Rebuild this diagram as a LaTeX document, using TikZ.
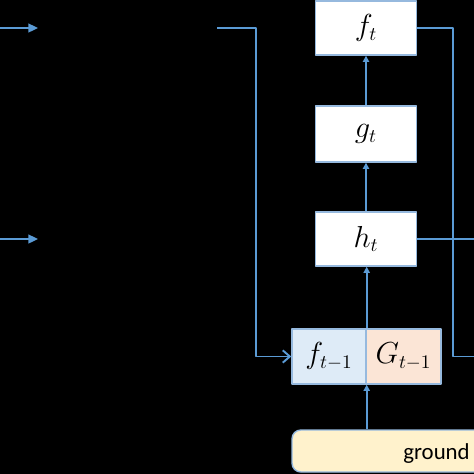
\documentclass[tikz,border=0pt]{standalone}
\usepackage{fontspec}
\newfontfamily\carlito{Carlito}
\usetikzlibrary{arrows.meta,positioning}
\definecolor{xanh}{RGB}{91,155,213}
\definecolor{vien}{RGB}{150,185,222}
\definecolor{xanhnhat}{RGB}{222,235,247}
\definecolor{camnhat}{RGB}{251,229,214}
\definecolor{vangnhat}{RGB}{255,242,204}
\begin{document}
\begin{tikzpicture}[x=0.02cm, y=-0.02cm, font=\fontsize{16}{18}\selectfont, line join=round, >={Triangle[length=3.5pt,width=3.5pt]},
	hop/.style={draw=vien, line width=0.8pt, fill=white, minimum width=2.02cm, minimum height=1.08cm, inner sep=0pt},
	noi/.style={draw=xanh, line width=1.1pt}]
	\clip (0,0) rectangle (474,474) ; % vùng lấy hình
	\fill[black] (0,0) rectangle (474,474);
	\node[hop] (ft) at (366,28) {$f_t$};
	\node[hop, minimum height=1.12cm] (gt) at (366,134) {$g_t$};
	\node[hop] (ht) at (366,239) {$h_t$};
	\node[hop, fill=xanhnhat, minimum width=1.48cm, minimum height=1.1cm] (fp) at (329,356.5) {$f_{t-1}$};
	\node[hop, fill=camnhat, minimum width=1.5cm, minimum height=1.1cm] (Gp) at (403.5,356.5) {$G_{t-1}$};
	\node[hop, fill=vangnhat, rounded corners=5pt, minimum width=5.36cm, minimum height=0.84cm] (gr) at (426,451) {};
	\node[font=\carlito\fontsize{13}{15}\selectfont, anchor=base west, inner sep=0pt] (grchu) at (403,459) {ground};
	% các mũi tên
	\draw[noi,->] (gt.north) -- (ft.south);
	\draw[noi,->] (ht.north) -- (gt.south);
	\draw[noi,->] (fp.north east) -- (ht.south -| fp.north east);
	\draw[noi,->] (gr.north -| fp.south east) -- (fp.south east);
	\coordinate (vao) at (217,28);
	\draw[noi,-{Straight Barb[length=4pt,width=7pt]}] (vao) -- (256,28) -- (256,356.5) -- (fp.west);
	\coordinate (ra1) at (480,356.5);
	\draw[noi] (ft.east) -- (453,28) -- (453,356.5) -- (ra1);
	\coordinate (ra2) at (480,239);
	\draw[noi] (ht.east) -- (ra2);
	\coordinate (a1) at (-5,28); \coordinate (b1) at (38,28);
	\coordinate (a2) at (-5,239); \coordinate (b2) at (38,239);
	\draw[noi,-{Triangle[length=5.5pt,width=5pt]}] (a1) -- (b1);
	\draw[noi,-{Triangle[length=5.5pt,width=5pt]}] (a2) -- (b2);
\end{tikzpicture}
\end{document}
